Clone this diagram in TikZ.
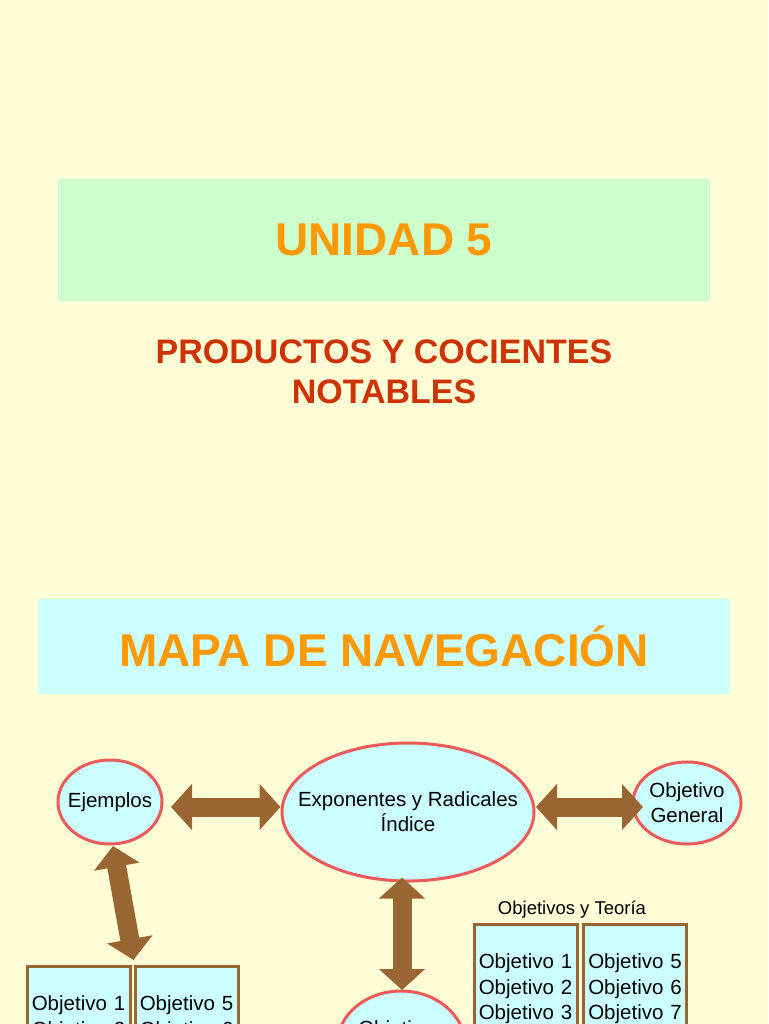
\documentclass[tikz,border=0pt]{standalone}
\usepackage{fontspec}
\setmainfont{Liberation Sans}
\usetikzlibrary{shapes.geometric,arrows.meta,calc}
\definecolor{bg}{RGB}{255,253,214}
\definecolor{mint}{RGB}{204,255,204}
\definecolor{lcyan}{RGB}{204,255,255}
\definecolor{orng}{RGB}{255,153,0}
\definecolor{rust}{RGB}{204,51,0}
\definecolor{brn}{RGB}{153,102,51}
\definecolor{pinkred}{RGB}{236,90,90}
\begin{document}
\begin{tikzpicture}[x=1pt,y=-1pt,
  oval/.style={ellipse, draw=pinkred, line width=3pt, fill=lcyan, inner sep=0pt},
  ovaltext/.style={align=center, inner sep=0pt, font=\fontsize{20.5}{25}\selectfont},
  objbox/.style={rectangle, draw=brn, line width=3pt, fill=lcyan, anchor=north,
    minimum width=103pt, text width=97pt, text depth=90pt, inner xsep=2pt, inner ysep=0pt,
    align=center, font=\fontsize{20.5}{25.5}\selectfont},
  bigarrow/.style={draw=brn, line width=19pt, {Triangle[length=21pt,width=45pt]}-{Triangle[length=21pt,width=45pt]}},
  banner/.style={rectangle, inner sep=0pt, align=center}]
\useasboundingbox (0,0) rectangle (768,1024);
\clip (0,0) rectangle (768,1024);
\fill[bg] (0,0) rectangle (768,1024);

% title banners
\node[banner, fill=mint, minimum width=652pt, minimum height=122pt,
  font=\bfseries\fontsize{46}{50}\selectfont, text=orng] (unidad) at (384,240) {UNIDAD 5};
\node[banner, font=\bfseries\fontsize{34}{40}\selectfont, text=rust] (tema) at (384,372)
  {PRODUCTOS Y COCIENTES\\NOTABLES};
\node[banner, fill=lcyan, minimum width=692pt, minimum height=95pt,
  font=\bfseries\fontsize{46}{50}\selectfont, text=orng] (mapa) at (384,646.5) {MAPA DE NAVEGACIÓN};

% ovals
\node[oval, minimum width=104pt, minimum height=84pt] (ej) at (110,802) {};
\node[ovaltext] (ejt) at (ej) {Ejemplos};
\node[oval, minimum width=252pt, minimum height=138pt] (ex) at (408,812) {};
\node[ovaltext] (ext) at (ex) {Exponentes y Radicales\\Índice};
\node[oval, minimum width=108pt, minimum height=82pt] (og) at (687,803) {};
\node[ovaltext] (ogt) at (og) {Objetivo\\General};
\node[oval, minimum width=128pt, minimum height=108pt] (ob) at (401,1045) {};
\node[ovaltext, anchor=base] (obt) at (401,1035.5) {Objetivos};

% boxes right
\node[font=\fontsize{18.5}{22}\selectfont] (teo) at (572,910) {Objetivos y Teoría};
\node[objbox] (rb1) at (525.5,923) {\rule{0pt}{44pt}Objetivo 1\\Objetivo 2\\Objetivo 3};
\node[objbox] (rb2) at (635,923) {\rule{0pt}{44pt}Objetivo 5\\Objetivo 6\\Objetivo 7};

% boxes left
\node[objbox] (lb1) at (78.5,965) {\rule{0pt}{44pt}Objetivo 1\\Objetivo 2};
\node[objbox] (lb2) at (186.5,965) {\rule{0pt}{44pt}Objetivo 5\\Objetivo 6};

% arrows
\draw[bigarrow] ([shift={(7.5,5)}]ej.east) -- ([shift={(0,-5)}]ex.west);
\draw[bigarrow] ([shift={(0.5,-5)}]ex.east) -- ([shift={(11.5,4)}]og.west);
\draw[bigarrow] ([shift={(-6,-5)}]ex.south) -- ([shift={(1,0.5)}]ob.north);
\coordinate (gap) at ($(lb1.north east)!0.5!(lb2.north west)$);
\draw[bigarrow] ([shift={(3,0.5)}]ej.south) -- ([shift={(1,-5)}]gap);
\end{tikzpicture}
\end{document}
